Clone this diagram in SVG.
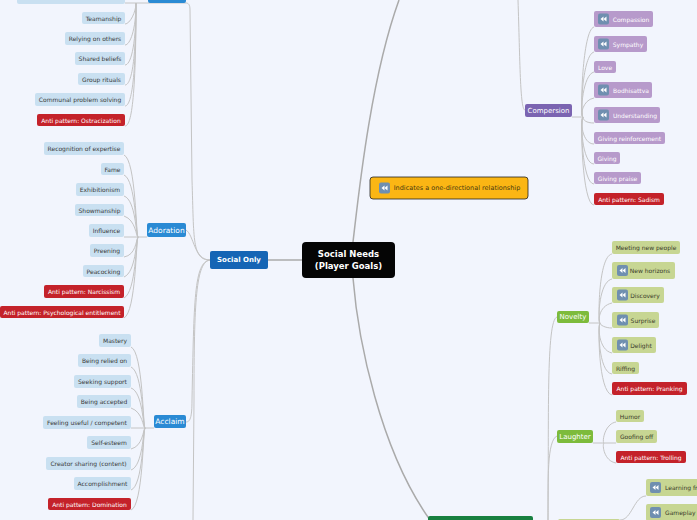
<svg xmlns="http://www.w3.org/2000/svg" width="697" height="520" viewBox="0 0 697 520">
<defs>
<style>
text{font-family:"DejaVu Sans","Liberation Sans",sans-serif;font-size:6px;text-anchor:middle;dominant-baseline:central}
.lb rect{fill:#c9e0f1}.lb text{fill:#3a3a3a}
.rd rect{fill:#c4222a}.rd text{fill:#fff}
.pu rect{fill:#b79acb}.pu text{fill:#fff}
.ol rect{fill:#c7d693}.ol text{fill:#3a3a2a}
.par rect{fill:#2a8ad4}.par text{fill:#fff;font-size:7.5px}
.con path{fill:none;stroke:#c4c4c4;stroke-width:1}
.con .th{stroke:#aaa;stroke-width:1.5}
</style>
<g id="ic"><rect width="11" height="11" rx="2" fill="#6f8fb0"/><polygon points="2.5,5.5 5.5,3 5.5,8" fill="#fff"/><polygon points="5.5,5.5 8.5,3 8.5,8" fill="#fff"/></g>
</defs>
<rect width="697" height="520" fill="#f2f5fd"/>
<g class="con">
<path class="th" d="M302,260 H268"/>
<path d="M210,260 C192,260 194,240 192,180 L190,10 C190,4 188,3 186,3"/>
<path d="M210,260 C194,260 194,235 186,230"/>
<path d="M210,260 C194,262 194,300 192,400 C192,418 190,422 186,422"/>
<path d="M210,260 C196,262 194,300 194,400 L193,520"/>
<path d="M186,3 H125 M136,3 C136,12 130,24 125,24 M136,3 C136,30 130,45 125,45 M136,3 C136,50 130,65 125,65 M136,3 C136,70 130,85 125,85 M136,3 C136,90 130,106 125,106 M136,3 C136,110 130,126 125,126"/>
<path d="M147,237 H138 C136,237 136,160 124,155 M138,237 C136,237 136,180 124,175 M138,237 C136,237 136,200 124,196 M138,237 C136,237 136,220 124,216 M138,237 H124 M138,237 C136,240 136,255 124,257 M138,237 C136,240 136,272 124,277 M138,237 C136,240 136,292 124,298 M138,237 C136,240 136,312 124,318"/>
<path d="M154,428 H145 C143,428 143,352 131,347 M145,428 C143,428 143,372 131,367 M145,428 C143,428 143,392 131,388 M145,428 C143,428 143,412 131,408 M145,428 H131 M145,428 C143,430 143,446 131,449 M145,428 C143,430 143,466 131,470 M145,428 C143,430 143,486 131,490 M145,428 C143,430 143,506 131,510"/>
<path class="th" d="M353,242 C358,200 370,80 399,0"/>
<path d="M525,110 C520,110 520,60 518,0"/>
<path d="M572,117 H583 C580,117 582,30 594,27 M583,117 C580,117 582,55 594,52 M583,117 C580,117 582,75 594,72 M583,117 C580,117 582,100 594,98 M583,117 C583,120 586,123 594,123 M583,117 C580,120 582,144 594,144 M583,117 C580,120 582,164 594,164 M583,117 C580,120 582,184 594,184 M583,117 C580,120 582,205 594,205"/>
<path class="th" d="M353,278 C358,340 380,450 430,520"/>
<path d="M548,520 C548,480 547,440 557,436 M548,520 C549,420 546,320 557,317"/>
<path d="M589,323 H600 C598,323 598,256 612,254 M600,323 C598,323 598,282 612,279 M600,323 C598,323 598,306 612,303 M600,323 C600,325 605,328 612,328 M600,323 C598,325 598,350 612,353 M600,323 C598,325 598,372 612,374 M600,323 C598,325 598,392 612,395"/>
<path d="M593,443 H604 C602,443 604,424 616,422 M604,443 H616 M604,443 C602,445 604,461 616,463"/>
<path d="M620,520 C632,520 634,496 646,496"/>
</g>
<g id="central"><rect x="302" y="242" width="93" height="36" rx="4" fill="#050505"/><text x="348.5" y="254" style="fill:#fff;font-size:8.5px;font-weight:bold">Social Needs</text><text x="348.5" y="266" style="fill:#fff;font-size:8.5px;font-weight:bold">(Player Goals)</text></g>
<g id="social-only"><rect x="210" y="251" width="58" height="18" rx="2" fill="#1565b5"/><text x="239" y="260" style="fill:#fff;font-size:7px;font-weight:bold">Social Only</text></g>
<g id="legend"><rect x="370" y="177" width="158" height="22" rx="3" fill="#fbb614" stroke="#222" stroke-width="0.8"/><use href="#ic" x="379" y="182.5"/><text x="457" y="188" style="font-size:6.5px;fill:#4a3a10">Indicates a one-directional relationship</text></g>
<g id="top-parent" class="par"><rect x="148" y="-10" width="38" height="13" rx="2"/></g>
<g id="top-cut" class="lb"><rect x="17" y="-9" width="108" height="13" rx="2"/></g>
<g id="teamanship" class="lb"><rect x="82" y="12" width="43" height="12" rx="2"/><text x="103.5" y="18">Teamanship</text></g>
<g id="relying" class="lb"><rect x="65" y="32" width="60" height="13" rx="2"/><text x="95" y="38.5">Relying on others</text></g>
<g id="shared" class="lb"><rect x="75" y="52" width="50" height="13" rx="2"/><text x="100" y="58.5">Shared beliefs</text></g>
<g id="rituals" class="lb"><rect x="78" y="73" width="47" height="12" rx="2"/><text x="101.5" y="79">Group rituals</text></g>
<g id="communal" class="lb"><rect x="35" y="93" width="90" height="13" rx="2"/><text x="80" y="99.5">Communal problem solving</text></g>
<g id="ostracization" class="rd"><rect x="37" y="114" width="88" height="12" rx="2"/><text x="81" y="120">Anti pattern: Ostracization</text></g>
<g id="adoration" class="par"><rect x="147" y="223" width="39" height="14" rx="2"/><text x="166.5" y="230">Adoration</text></g>
<g class="lb" id="recognition"><rect x="44" y="142" width="80" height="13" rx="2"/><text x="84" y="148.5">Recognition of expertise</text></g>
<g class="lb" id="fame"><rect x="101" y="163" width="23" height="12" rx="2"/><text x="112.5" y="169">Fame</text></g>
<g class="lb" id="exhibitionism"><rect x="76" y="183" width="48" height="13" rx="2"/><text x="100" y="189.5">Exhibitionism</text></g>
<g class="lb" id="showmanship"><rect x="75" y="204" width="49" height="12" rx="2"/><text x="99.5" y="210">Showmanship</text></g>
<g class="lb" id="influence"><rect x="89" y="224" width="35" height="13" rx="2"/><text x="106.5" y="230.5">Influence</text></g>
<g class="lb" id="preening"><rect x="90" y="244" width="34" height="13" rx="2"/><text x="107" y="250.5">Preening</text></g>
<g class="lb" id="peacocking"><rect x="83" y="265" width="41" height="12" rx="2"/><text x="103.5" y="271">Peacocking</text></g>
<g class="rd" id="narcissism"><rect x="44" y="285" width="80" height="13" rx="2"/><text x="84" y="291.5">Anti pattern: Narcissism</text></g>
<g class="rd" id="entitlement"><rect x="0" y="306" width="124" height="12" rx="2"/><text x="62" y="312">Anti pattern: Psychological entitlement</text></g>
<g id="acclaim" class="par"><rect x="154" y="415" width="32" height="13" rx="2"/><text x="170" y="421.5">Acclaim</text></g>
<g class="lb" id="mastery"><rect x="99" y="334" width="32" height="13" rx="2"/><text x="115" y="340.5">Mastery</text></g>
<g class="lb" id="relied"><rect x="78" y="354" width="53" height="13" rx="2"/><text x="104.5" y="360.5">Being relied on</text></g>
<g class="lb" id="seeking"><rect x="74" y="375" width="57" height="13" rx="2"/><text x="102.5" y="381.5">Seeking support</text></g>
<g class="lb" id="accepted"><rect x="77" y="395" width="54" height="13" rx="2"/><text x="104" y="401.5">Being accepted</text></g>
<g class="lb" id="useful"><rect x="43" y="416" width="88" height="13" rx="2"/><text x="87" y="422.5">Feeling useful / competent</text></g>
<g class="lb" id="selfesteem"><rect x="87" y="436" width="44" height="13" rx="2"/><text x="109" y="442.5">Self-esteem</text></g>
<g class="lb" id="creator"><rect x="46" y="457" width="85" height="13" rx="2"/><text x="88.5" y="463.5">Creator sharing (content)</text></g>
<g class="lb" id="accomplishment"><rect x="74" y="477" width="57" height="13" rx="2"/><text x="102.5" y="483.5">Accomplishment</text></g>
<g class="rd" id="domination"><rect x="48" y="498" width="83" height="12" rx="2"/><text x="89.5" y="504">Anti pattern: Domination</text></g>
<g id="compersion"><rect x="525" y="104" width="47" height="13" rx="2" fill="#7b64b1"/><text x="548.5" y="110.5" style="fill:#fff;font-size:7px">Compersion</text></g>
<g class="pu" id="compassion"><rect x="594" y="11" width="59" height="16" rx="2"/><use href="#ic" x="598" y="13.5"/><text x="631" y="19">Compassion</text></g>
<g class="pu" id="sympathy"><rect x="594" y="36" width="53" height="16" rx="2"/><use href="#ic" x="598" y="38.5"/><text x="628" y="44">Sympathy</text></g>
<g class="pu" id="love"><rect x="594" y="61" width="22" height="12" rx="2"/><text x="605" y="67">Love</text></g>
<g class="pu" id="bodhisattva"><rect x="594" y="82" width="58" height="16" rx="2"/><use href="#ic" x="598" y="84.5"/><text x="631" y="90">Bodhisattva</text></g>
<g class="pu" id="understanding"><rect x="594" y="107" width="66" height="16" rx="2"/><use href="#ic" x="598" y="109.5"/><text x="635" y="115">Understanding</text></g>
<g class="pu" id="reinforcement"><rect x="594" y="132" width="71" height="12" rx="2"/><text x="629.5" y="138">Giving reinforcement</text></g>
<g class="pu" id="giving"><rect x="594" y="152" width="26" height="12" rx="2"/><text x="607" y="158">Giving</text></g>
<g class="pu" id="praise"><rect x="594" y="172" width="47" height="12" rx="2"/><text x="617.5" y="178">Giving praise</text></g>
<g class="rd" id="sadism"><rect x="594" y="193" width="70" height="12" rx="2"/><text x="629" y="199">Anti pattern: Sadism</text></g>
<g id="green-root"><rect x="428" y="516" width="105" height="12" rx="2" fill="#188040"/></g>
<g id="novelty"><rect x="557" y="311" width="32" height="12" rx="2" fill="#7dbb3c"/><text x="573" y="317" style="fill:#fff;font-size:7px">Novelty</text></g>
<g class="ol" id="meeting"><rect x="612" y="241" width="68" height="13" rx="2"/><text x="646" y="247.5">Meeting new people</text></g>
<g class="ol" id="horizons"><rect x="612" y="262" width="63" height="17" rx="2"/><use href="#ic" x="617" y="265"/><text x="650" y="270.5">New horizons</text></g>
<g class="ol" id="discovery"><rect x="612" y="287" width="52" height="16" rx="2"/><use href="#ic" x="617" y="289.5"/><text x="645" y="295">Discovery</text></g>
<g class="ol" id="surprise"><rect x="612" y="312" width="47" height="16" rx="2"/><use href="#ic" x="617" y="314.5"/><text x="643" y="320">Surprise</text></g>
<g class="ol" id="delight"><rect x="612" y="337" width="44" height="16" rx="2"/><use href="#ic" x="617" y="339.5"/><text x="641" y="345">Delight</text></g>
<g class="ol" id="riffing"><rect x="612" y="362" width="27" height="12" rx="2"/><text x="625.5" y="368">Riffing</text></g>
<g class="rd" id="pranking"><rect x="612" y="382" width="75" height="13" rx="2"/><text x="649.5" y="388.5">Anti pattern: Pranking</text></g>
<g id="laughter"><rect x="557" y="430" width="36" height="13" rx="2" fill="#7dbb3c"/><text x="575" y="436.5" style="fill:#fff;font-size:7px">Laughter</text></g>
<g class="ol" id="humor"><rect x="616" y="410" width="28" height="12" rx="2"/><text x="630" y="416">Humor</text></g>
<g class="ol" id="goofing"><rect x="616" y="430" width="41" height="13" rx="2"/><text x="636.5" y="436.5">Goofing off</text></g>
<g class="rd" id="trolling"><rect x="616" y="451" width="70" height="12" rx="2"/><text x="651" y="457">Anti pattern: Trolling</text></g>
<g id="third-green"><rect x="558" y="519" width="62" height="8" rx="2" fill="#c7d693"/></g>
<g class="ol" id="learning"><rect x="646" y="479" width="60" height="17" rx="2"/><use href="#ic" x="650" y="482"/><text x="665" y="487.5" style="text-anchor:start">Learning fr</text></g>
<g class="ol" id="gameplay"><rect x="646" y="504" width="60" height="17" rx="2"/><use href="#ic" x="650" y="507"/><text x="665" y="512.5" style="text-anchor:start">Gameplay</text></g>
</svg>
